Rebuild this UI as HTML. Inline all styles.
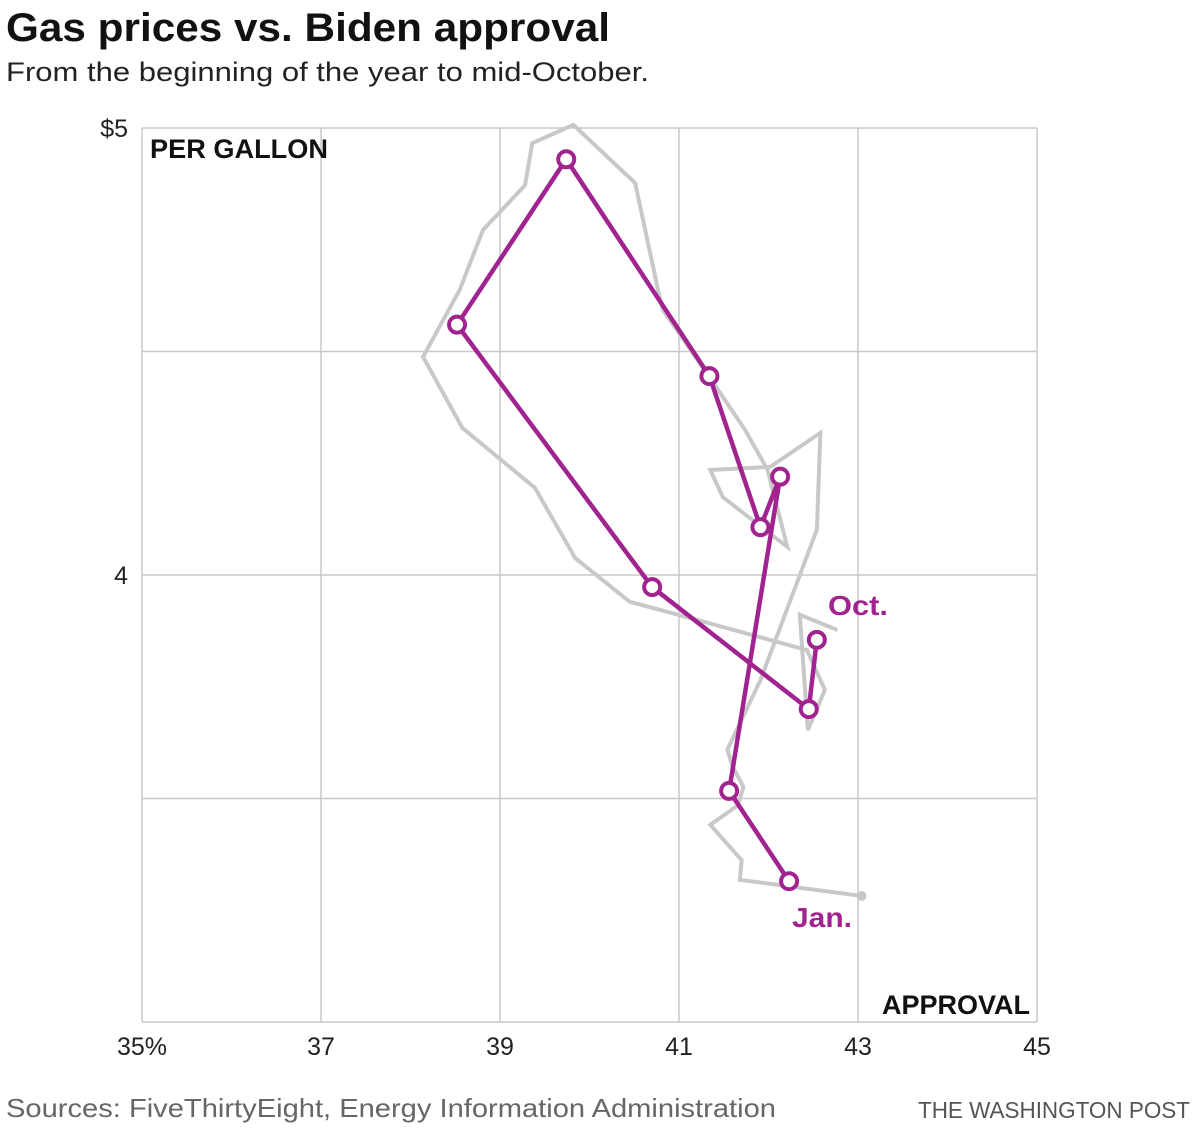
<!DOCTYPE html>
<html><head><meta charset="utf-8"><style>
html,body{margin:0;padding:0;background:#fff;}
svg{display:block;font-family:"Liberation Sans",sans-serif;}
</style></head><body>
<svg id="chart" width="1200" height="1132" viewBox="0 0 1200 1132">
<text x="6" y="41" font-size="40" font-weight="bold" fill="#111" textLength="604" lengthAdjust="spacingAndGlyphs">Gas prices vs. Biden approval</text>
<text x="6" y="81" font-size="27" fill="#222" textLength="643" lengthAdjust="spacingAndGlyphs">From the beginning of the year to mid-October.</text>
<g id="grid"></g>
<g id="axes"></g>
<g id="series"></g>
<text x="150" y="158" font-size="27" font-weight="bold" fill="#111" textLength="178" lengthAdjust="spacingAndGlyphs">PER GALLON</text>
<text x="1030" y="1014" text-anchor="end" font-size="27" font-weight="bold" fill="#111" textLength="148" lengthAdjust="spacingAndGlyphs">APPROVAL</text>
<text x="828" y="615" font-size="28" font-weight="bold" fill="#a0238f" textLength="60" lengthAdjust="spacingAndGlyphs">Oct.</text>
<text x="792" y="927" font-size="28" font-weight="bold" fill="#a0238f" textLength="60" lengthAdjust="spacingAndGlyphs">Jan.</text>
<text x="6" y="1117" font-size="26" fill="#666" textLength="770" lengthAdjust="spacingAndGlyphs">Sources: FiveThirtyEight, Energy Information Administration</text>
<text x="1190" y="1118" text-anchor="end" font-size="23" fill="#555" textLength="272" lengthAdjust="spacingAndGlyphs">THE WASHINGTON POST</text>
</svg>
<script>
const xTicks = [35, 37, 39, 41, 43, 45];
const xTickLabels = ["35%", "37", "39", "41", "43", "45"];
const yTicks = [3, 3.5, 4, 4.5, 5];
const yTickLabels = ["", "", "4", "", "$5"];
const weeklyApproval = [43.04,41.68,41.70,41.35,41.66,41.72,41.60,41.54,41.91,42.54,42.58,42.02,41.35,41.49,42.21,41.99,41.74,41.40,40.82,40.79,40.51,39.82,39.36,39.28,38.81,38.55,38.14,38.58,39.39,39.84,40.45,41.12,42.43,42.63,42.44,42.35,42.77];
const weeklyGas = [3.282,3.318,3.362,3.441,3.485,3.526,3.571,3.609,3.765,4.101,4.318,4.242,4.235,4.174,4.063,4.235,4.324,4.425,4.593,4.615,4.877,5.007,4.966,4.872,4.772,4.638,4.488,4.329,4.195,4.038,3.940,3.904,3.832,3.743,3.653,3.911,3.877];
const monthlyApproval = [42.23,41.56,42.13,41.91,41.34,39.74,38.52,40.70,42.45,42.54];
const monthlyGas = [3.315,3.517,4.22,4.107,4.445,4.93,4.56,3.973,3.70,3.855];

const NS = "http://www.w3.org/2000/svg";
const X0 = 142, X1 = 1037, Y0 = 1022, Y1 = 128;
function xs(v){ return X0 + (v - 35) / 10 * (X1 - X0); }
function ys(v){ return Y0 - (v - 3) / 2 * (Y0 - Y1); }
function mk(tag, attrs, parent){ const e = document.createElementNS(NS, tag); for (const k in attrs) e.setAttribute(k, attrs[k]); parent.appendChild(e); return e; }

const grid = document.getElementById("grid");
const axes = document.getElementById("axes");
const series = document.getElementById("series");

xTicks.forEach((t, i) => {
  const l = mk("line", {x1: xs(t), x2: xs(t), y1: Y1, y2: Y0, stroke: "#c8c8c8", "stroke-width": 1.5}, grid);
  
  
  const tx = mk("text", {x: xs(t), y: 1055, "text-anchor": "middle", "font-size": 25, fill: "#222"}, axes);
  tx.textContent = xTickLabels[i];
  
  
});
yTicks.forEach((t, i) => {
  const l = mk("line", {x1: X0, x2: X1, y1: ys(t), y2: ys(t), stroke: "#c8c8c8", "stroke-width": 1.5}, grid);
  
  
  if (yTickLabels[i]) {
    const tx = mk("text", {x: 128, y: ys(t) + 9, "text-anchor": "end", "font-size": 25, fill: "#222"}, axes);
    tx.textContent = yTickLabels[i];
    
    
  }
});

const gp = weeklyApproval.map((a, i) => xs(a) + "," + ys(weeklyGas[i])).join(" ");
const gl = mk("polyline", {points: gp, fill: "none", stroke: "#c8c8c8", "stroke-width": 4, "stroke-linejoin": "miter"}, series);


const gd = mk("circle", {cx: xs(weeklyApproval[0]), cy: ys(weeklyGas[0]), r: 5, fill: "#c8c8c8"}, series);



const mp = monthlyApproval.map((a, i) => xs(a) + "," + ys(monthlyGas[i])).join(" ");
const ml = mk("polyline", {points: mp, fill: "none", stroke: "#a0238f", "stroke-width": 4.5, "stroke-linejoin": "round"}, series);


monthlyApproval.forEach((a, i) => {
  const c = mk("circle", {cx: xs(a), cy: ys(monthlyGas[i]), r: 8, fill: "#fff", stroke: "#a0238f", "stroke-width": 4}, series);
  
  
});
</script>
</body></html>
